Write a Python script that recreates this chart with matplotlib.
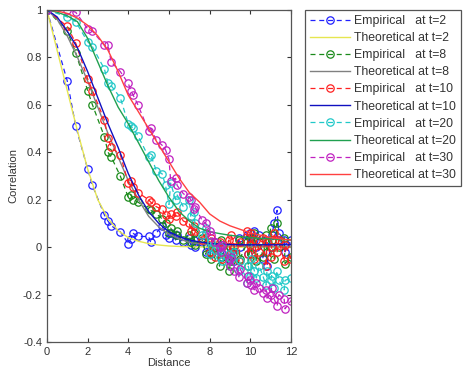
import matplotlib
matplotlib.use("Agg")
import matplotlib.pyplot as plt
import numpy as np

plt.rcParams['font.family'] = ['Liberation Sans', 'DejaVu Sans']

# squared lattice distances used for the empirical correlation
lag_sq = [0, 1, 2, 4, 5, 8, 9, 10, 13, 16, 17, 18, 20, 25, 26, 29, 32, 34, 36, 37,
          40, 41, 45, 49, 50, 52, 53, 58, 61, 64, 65, 68, 72, 73, 74, 80, 81, 82, 85, 89,
          90, 97, 98, 100, 101, 104, 106, 109, 113, 116, 117, 121, 122, 125, 128, 130,
          136, 137, 144]
dist = np.sqrt(lag_sq)

emp_t2 = [1.0, 0.70, 0.51, 0.33, 0.26, 0.135, 0.11, 0.09, 0.065, 0.015, 0.035, 0.058,
          0.045, 0.045, 0.02, 0.06, 0.09, 0.05, 0.04, 0.06, 0.03, 0.05, 0.02, 0.04, 0.01,
          0.03, 0.0, 0.02, -0.02, 0.0, -0.03, 0.02, -0.01, -0.04, 0.01, -0.05, 0.0, -0.02,
          -0.06, 0.04, 0.0, 0.05, -0.03, 0.06, 0.02, 0.07, 0.0, 0.05, -0.05, 0.03, -0.08,
          0.0, 0.05, 0.10, 0.155, 0.06, 0.03, -0.02, 0.03]
emp_t8 = [1.0, 0.91, 0.82, 0.66, 0.60, 0.465, 0.40, 0.38, 0.30, 0.21, 0.22, 0.20,
          0.19, 0.16, 0.155, 0.14, 0.12, 0.10, 0.06, 0.08, 0.05, 0.07, 0.03, 0.05, 0.02,
          0.06, 0.01, 0.04, -0.03, 0.02, -0.05, 0.0, -0.08, 0.03, -0.04, -0.10, 0.0, -0.06,
          -0.02, 0.03, -0.05, 0.02, -0.08, 0.04, -0.03, 0.06, -0.06, 0.02, -0.04, 0.05,
          -0.02, 0.08, 0.03, -0.05, 0.10, 0.0, 0.04, -0.07, -0.04]
emp_t10 = [1.0, 0.93, 0.86, 0.71, 0.66, 0.535, 0.46, 0.42, 0.39, 0.27, 0.28, 0.255,
           0.23, 0.20, 0.19, 0.17, 0.16, 0.135, 0.12, 0.14, 0.13, 0.15, 0.11, 0.10, 0.07,
           0.09, 0.07, 0.03, 0.06, -0.02, 0.04, -0.04, 0.02, 0.0, -0.05, 0.03, -0.03, 0.05,
           0.0, -0.06, 0.02, 0.07, -0.03, 0.01, 0.06, -0.05, 0.03, -0.02, 0.04, -0.08,
           0.02, -0.04, 0.0, 0.06, -0.02, 0.03, -0.06, 0.01, -0.05]
emp_t20 = [1.0, 0.97, 0.95, 0.866, 0.845, 0.75, 0.69, 0.68, 0.63, 0.52, 0.51, 0.50,
           0.47, 0.38, 0.39, 0.32, 0.31, 0.26, 0.18, 0.27, 0.20, 0.22, 0.17, 0.20, 0.13,
           0.15, 0.10, 0.05, 0.08, -0.03, 0.02, -0.01, -0.04, 0.0, -0.06, -0.03, -0.08,
           -0.05, -0.02, -0.10, -0.06, -0.15, -0.08, -0.12, -0.05, -0.10, -0.13, -0.08,
           -0.125, -0.16, -0.10, -0.14, -0.12, -0.17, -0.10, -0.14, -0.18, -0.14, -0.13]
emp_t30 = [1.0, 1.0, 0.99, 0.92, 0.91, 0.85, 0.85, 0.78, 0.74, 0.69, 0.66, 0.64,
           0.60, 0.49, 0.50, 0.45, 0.43, 0.41, 0.37, 0.28, 0.29, 0.26, 0.225, 0.21, 0.20,
           0.16, 0.17, 0.115, 0.10, 0.07, 0.05, 0.02, 0.0, -0.02, 0.01, -0.055, -0.08,
           -0.04, -0.10, -0.125, -0.09, -0.15, -0.12, -0.14, -0.16, -0.18, -0.15, -0.17,
           -0.195, -0.18, -0.215, -0.20, -0.17, -0.22, -0.25, -0.20, -0.22, -0.26, -0.225]

# theoretical curves
theo_x = [0, 0.5, 1, 1.5, 2, 2.5, 3, 3.5, 4, 4.5, 5, 5.5, 6, 6.5, 7, 7.5, 8, 8.5,
          9, 9.5, 10, 10.5, 11, 11.5, 12]
theo_t2 = [1.0, 0.83, 0.66, 0.49, 0.33, 0.20, 0.12, 0.07, 0.04, 0.025, 0.015, 0.009,
           0.005, 0.003, 0.002, 0.001, 0.0, 0.0, 0.0, 0.0, 0.0, 0.0, 0.0, 0.0, 0.0]
theo_t8 = [1.0, 0.96, 0.89, 0.80, 0.70, 0.59, 0.48, 0.38, 0.28, 0.20, 0.13, 0.085,
           0.055, 0.035, 0.02, 0.014, 0.01, 0.007, 0.005, 0.004, 0.003, 0.002, 0.002,
           0.001, 0.001]
theo_t10 = [1.0, 0.97, 0.91, 0.84, 0.74, 0.63, 0.52, 0.42, 0.31, 0.22, 0.15, 0.10,
            0.065, 0.045, 0.03, 0.022, 0.016, 0.013, 0.011, 0.01, 0.01, 0.01, 0.01,
            0.01, 0.01]
theo_t20 = [1.0, 0.99, 0.975, 0.95, 0.88, 0.78, 0.68, 0.59, 0.52, 0.44, 0.36, 0.28,
            0.21, 0.15, 0.11, 0.08, 0.065, 0.057, 0.05, 0.045, 0.04, 0.037, 0.035,
            0.032, 0.03]
theo_t30 = [1.0, 0.995, 0.985, 0.965, 0.935, 0.89, 0.83, 0.74, 0.64, 0.57, 0.50,
            0.43, 0.36, 0.29, 0.23, 0.19, 0.14, 0.11, 0.09, 0.075, 0.06, 0.05, 0.04,
            0.035, 0.03]

fig = plt.figure(figsize=(4.74, 3.78), dpi=100)
ax = fig.add_axes([0.099, 0.095, 0.515, 0.879])

mk = dict(marker='o', markerfacecolor='none', markersize=5.3, markeredgewidth=0.9,
          linestyle='--', linewidth=0.9, dashes=(4, 3))
ax.plot(dist, emp_t2, color='#2020ff', label='Empirical   at t=2', **mk)
ax.plot(theo_x, theo_t2, color='#e6e650', linewidth=1, label='Theoretical at t=2')
ax.plot(dist, emp_t8, color='#1a8a1a', label='Empirical   at t=8', **mk)
ax.plot(theo_x, theo_t8, color='#808080', linewidth=1, label='Theoretical at t=8')
ax.plot(dist, emp_t10, color='#ff2020', label='Empirical   at t=10', **mk)
ax.plot(theo_x, theo_t10, color='#1010c0', linewidth=1, label='Theoretical at t=10')
ax.plot(dist, emp_t20, color='#20c8c8', label='Empirical   at t=20', **mk)
ax.plot(theo_x, theo_t20, color='#20a050', linewidth=1, label='Theoretical at t=20')
ax.plot(dist, emp_t30, color='#c020c0', label='Empirical   at t=30', **mk)
ax.plot(theo_x, theo_t30, color='#ff4040', linewidth=1, label='Theoretical at t=30')

ax.set_xlim(0, 12)
ax.set_ylim(-0.4, 1)
ax.set_xticks([0, 2, 4, 6, 8, 10, 12])
ax.set_yticks([-0.4, -0.2, 0, 0.2, 0.4, 0.6, 0.8, 1])
ax.set_yticklabels(['-0.4', '-0.2', '0', '0.2', '0.4', '0.6', '0.8', '1'])
ax.tick_params(direction='in', top=True, right=True, labelsize=8, colors='#333333',
               length=3, width=0.8)
for s in ax.spines.values():
    s.set_color('#555555')
    s.set_linewidth(0.9)
ax.set_xlabel('Distance', fontsize=8, color='#333333', labelpad=1)
ax.set_ylabel('Correlation', fontsize=8, color='#333333', labelpad=3)

leg = ax.legend(loc='upper left', bbox_to_anchor=(0.6435, 0.9735),
                bbox_transform=fig.transFigure, fontsize=8.8, handlelength=3.3,
                labelspacing=0.42, borderpad=0.4, handletextpad=0.3,
                borderaxespad=0, fancybox=False, framealpha=1)
leg.get_frame().set_edgecolor('#555555')
leg.get_frame().set_linewidth(0.9)
for t in leg.get_texts():
    t.set_color('#333333')

fig.savefig('out.png', dpi=100)
